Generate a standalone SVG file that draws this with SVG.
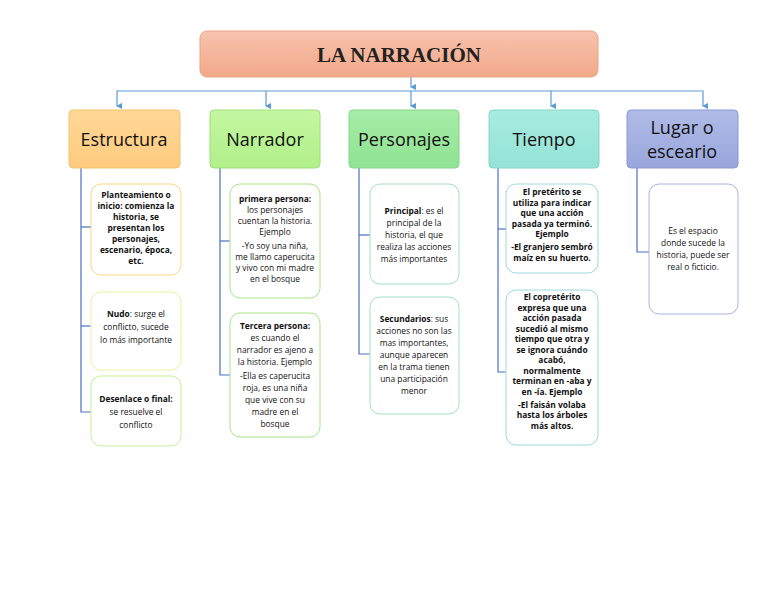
<svg xmlns="http://www.w3.org/2000/svg" width="768" height="594" viewBox="0 0 768 594">
<defs>
<marker id="ar" viewBox="0 0 6 6" refX="3" refY="5" markerWidth="6" markerHeight="6" orient="auto-start-reverse" markerUnits="userSpaceOnUse"><path d="M0,0 L6,0 L3,6 z" fill="#5b9bd5"/></marker>
<linearGradient id="g0" x1="0" y1="0" x2="0" y2="1"><stop offset="0" stop-color="#f7c3ad"/><stop offset="1" stop-color="#f2a889"/></linearGradient>
<linearGradient id="g1" x1="0" y1="0" x2="0" y2="1"><stop offset="0" stop-color="#ffd896"/><stop offset="1" stop-color="#fecb7f"/></linearGradient>
<linearGradient id="g2" x1="0" y1="0" x2="0" y2="1"><stop offset="0" stop-color="#c4f7a0"/><stop offset="1" stop-color="#b0f08a"/></linearGradient>
<linearGradient id="g3" x1="0" y1="0" x2="0" y2="1"><stop offset="0" stop-color="#a6eca6"/><stop offset="1" stop-color="#8fe394"/></linearGradient>
<linearGradient id="g4" x1="0" y1="0" x2="0" y2="1"><stop offset="0" stop-color="#a8ebe0"/><stop offset="1" stop-color="#94e3d6"/></linearGradient>
<linearGradient id="g5" x1="0" y1="0" x2="0" y2="1"><stop offset="0" stop-color="#b0bbe6"/><stop offset="1" stop-color="#98a6dc"/></linearGradient>
</defs>
<style>
.cat{font-family:"Open Sans","Liberation Sans",sans-serif;font-size:18px;fill:#111;text-anchor:middle}
.t{font-family:"Open Sans","Liberation Sans",sans-serif;font-size:8.4px;fill:#111;text-anchor:middle}
.b{font-weight:bold}
.box{fill:#fff;stroke-width:1}
.ln{stroke:#4a72c4;stroke-width:1.2;fill:none}
.bus{stroke:#5b9bd5;stroke-width:1.2;fill:none}
</style>
<rect width="768" height="594" fill="#fff"/>
<g id="connectors">
<line class="bus" x1="411" y1="77" x2="411" y2="87" marker-end="url(#ar)"/>
<polyline class="bus" points="117,106 117,91 703,91 703,106" marker-start="url(#ar)" marker-end="url(#ar)"/>
<line class="bus" x1="266" y1="91" x2="266" y2="106" marker-end="url(#ar)"/>
<line class="bus" x1="411" y1="91" x2="411" y2="106" marker-end="url(#ar)"/>
<line class="bus" x1="551" y1="91" x2="551" y2="106" marker-end="url(#ar)"/>
<polyline class="ln" points="81,168 81,412 91,412"/><line class="ln" x1="81" y1="227" x2="91" y2="227"/><line class="ln" x1="81" y1="326" x2="91" y2="326"/>
<polyline class="ln" points="220,168 220,375 230,375"/><line class="ln" x1="220" y1="241" x2="230" y2="241"/>
<polyline class="ln" points="359,168 359,354 370,354"/><line class="ln" x1="359" y1="235" x2="370" y2="235"/>
<polyline class="ln" points="498,168 498,372 506,372"/><line class="ln" x1="498" y1="229" x2="506" y2="229"/>
<polyline class="ln" points="637,168 637,252 649,252"/>
</g>
<g id="title"><rect x="200" y="31" width="398" height="46" rx="7" fill="url(#g0)" stroke="#e9a487"/><text x="399" y="62" font-family="Liberation Serif,serif" font-size="21" font-weight="bold" fill="#222" text-anchor="middle">LA NARRACIÓN</text></g>
<g id="estructura"><rect x="69" y="110" width="111" height="58" rx="4" fill="url(#g1)" stroke="#f2c26d"/><text class="cat" x="124" y="146">Estructura</text></g>
<g id="narrador"><rect x="210" y="110" width="110" height="58" rx="4" fill="url(#g2)" stroke="#9fde7a"/><text class="cat" x="265" y="146">Narrador</text></g>
<g id="personajes"><rect x="349" y="110" width="110" height="58" rx="4" fill="url(#g3)" stroke="#84d68a"/><text class="cat" x="404" y="146">Personajes</text></g>
<g id="tiempo"><rect x="489" y="110" width="110" height="58" rx="4" fill="url(#g4)" stroke="#84d6c8"/><text class="cat" x="544" y="146">Tiempo</text></g>
<g id="lugar"><rect x="627" y="110" width="111" height="58" rx="4" fill="url(#g5)" stroke="#8a99d2"/><text class="cat" x="682" y="134">Lugar o</text><text class="cat" x="682" y="158">esceario</text></g>
<g id="e1"><rect class="box" x="91" y="184" width="90" height="91" rx="10" stroke="#fcd67e"/><text class="t b" x="136" y="198"><tspan x="136">Planteamiento o</tspan><tspan x="136" dy="11">inicio: comienza la</tspan><tspan x="136" dy="11">historia, se</tspan><tspan x="136" dy="11">presentan los</tspan><tspan x="136" dy="11">personajes,</tspan><tspan x="136" dy="11">escenario, época,</tspan><tspan x="136" dy="11">etc.</tspan></text></g>
<g id="e2"><rect class="box" x="91" y="292" width="90" height="78" rx="10" stroke="#eef0a0"/><text class="t" x="136" y="317"><tspan x="136"><tspan class="b">Nudo</tspan>: surge el</tspan><tspan x="136" dy="13">conflicto, sucede</tspan><tspan x="136" dy="13">lo más importante</tspan></text></g>
<g id="e3"><rect class="box" x="91" y="376" width="90" height="70" rx="10" stroke="#c7ef9a"/><text class="t" x="136" y="402"><tspan x="136" class="b">Desenlace o final:</tspan><tspan x="136" dy="13">se resuelve el</tspan><tspan x="136" dy="13">conflicto</tspan></text></g>
<g id="n1"><rect class="box" x="230" y="184" width="90" height="114" rx="10" stroke="#a8e68a"/><text class="t" x="275" y="202"><tspan x="275" class="b">primera persona:</tspan><tspan x="275" dy="11">los personajes</tspan><tspan x="275" dy="11">cuentan la historia.</tspan><tspan x="275" dy="11">Ejemplo</tspan><tspan x="275" dy="14">-Yo soy una niña,</tspan><tspan x="275" dy="11">me llamo caperucita</tspan><tspan x="275" dy="11">y vivo con mi madre</tspan><tspan x="275" dy="11">en el bosque</tspan></text></g>
<g id="n2"><rect class="box" x="230" y="313" width="90" height="124" rx="10" stroke="#a8e68a"/><text class="t" x="275" y="329"><tspan x="275" class="b">Tercera persona:</tspan><tspan x="275" dy="12">es cuando el</tspan><tspan x="275" dy="12">narrador es ajeno a</tspan><tspan x="275" dy="12">la historia. Ejemplo</tspan><tspan x="275" dy="14">-Ella es caperucita</tspan><tspan x="275" dy="12">roja, es una niña</tspan><tspan x="275" dy="12">que vive con su</tspan><tspan x="275" dy="12">madre en el</tspan><tspan x="275" dy="12">bosque</tspan></text></g>
<g id="p1"><rect class="box" x="370" y="184" width="89" height="100" rx="10" stroke="#a2e2c0"/><text class="t" x="414" y="214"><tspan x="414"><tspan class="b">Principal</tspan>: es el</tspan><tspan x="414" dy="12">principal de la</tspan><tspan x="414" dy="12">historia, el que</tspan><tspan x="414" dy="12">realiza las acciones</tspan><tspan x="414" dy="12">más importantes</tspan></text></g>
<g id="p2"><rect class="box" x="370" y="297" width="89" height="117" rx="10" stroke="#a2e2c0"/><text class="t" x="414" y="322"><tspan x="414"><tspan class="b">Secundarios</tspan>: sus</tspan><tspan x="414" dy="12">acciones no son las</tspan><tspan x="414" dy="12">mas importantes,</tspan><tspan x="414" dy="12">aunque aparecen</tspan><tspan x="414" dy="12">en la trama tienen</tspan><tspan x="414" dy="12">una participación</tspan><tspan x="414" dy="12">menor</tspan></text></g>
<g id="t1"><rect class="box" x="506" y="184" width="92" height="89" rx="10" stroke="#9ed8e0"/><text class="t b" x="552" y="195"><tspan x="552">El pretérito se</tspan><tspan x="552" dy="10.5">utiliza para indicar</tspan><tspan x="552" dy="10.5">que una acción</tspan><tspan x="552" dy="10.5">pasada ya terminó.</tspan><tspan x="552" dy="10.5">Ejemplo</tspan><tspan x="552" dy="13">-El granjero sembró</tspan><tspan x="552" dy="10.5">maíz en su huerto.</tspan></text></g>
<g id="t2"><rect class="box" x="506" y="290" width="92" height="155" rx="10" stroke="#9ed8e0"/><text class="t b" x="552" y="300"><tspan x="552">El copretérito</tspan><tspan x="552" dy="10.5">expresa que una</tspan><tspan x="552" dy="10.5">acción pasada</tspan><tspan x="552" dy="10.5">sucedió al mismo</tspan><tspan x="552" dy="10.5">tiempo que otra y</tspan><tspan x="552" dy="10.5">se ignora cuándo</tspan><tspan x="552" dy="10.5">acabó,</tspan><tspan x="552" dy="10.5">normalmente</tspan><tspan x="552" dy="10.5">terminan en -aba y</tspan><tspan x="552" dy="10.5">en -ía. Ejemplo</tspan><tspan x="552" dy="13">-El faisán volaba</tspan><tspan x="552" dy="10.5">hasta los árboles</tspan><tspan x="552" dy="10.5">más altos.</tspan></text></g>
<g id="l1"><rect class="box" x="649" y="184" width="89" height="130" rx="10" stroke="#a8b4e0"/><text class="t" x="693" y="234"><tspan x="693">Es el espacio</tspan><tspan x="693" dy="12">donde sucede la</tspan><tspan x="693" dy="12">historia, puede ser</tspan><tspan x="693" dy="12">real o ficticio.</tspan></text></g>
</svg>
